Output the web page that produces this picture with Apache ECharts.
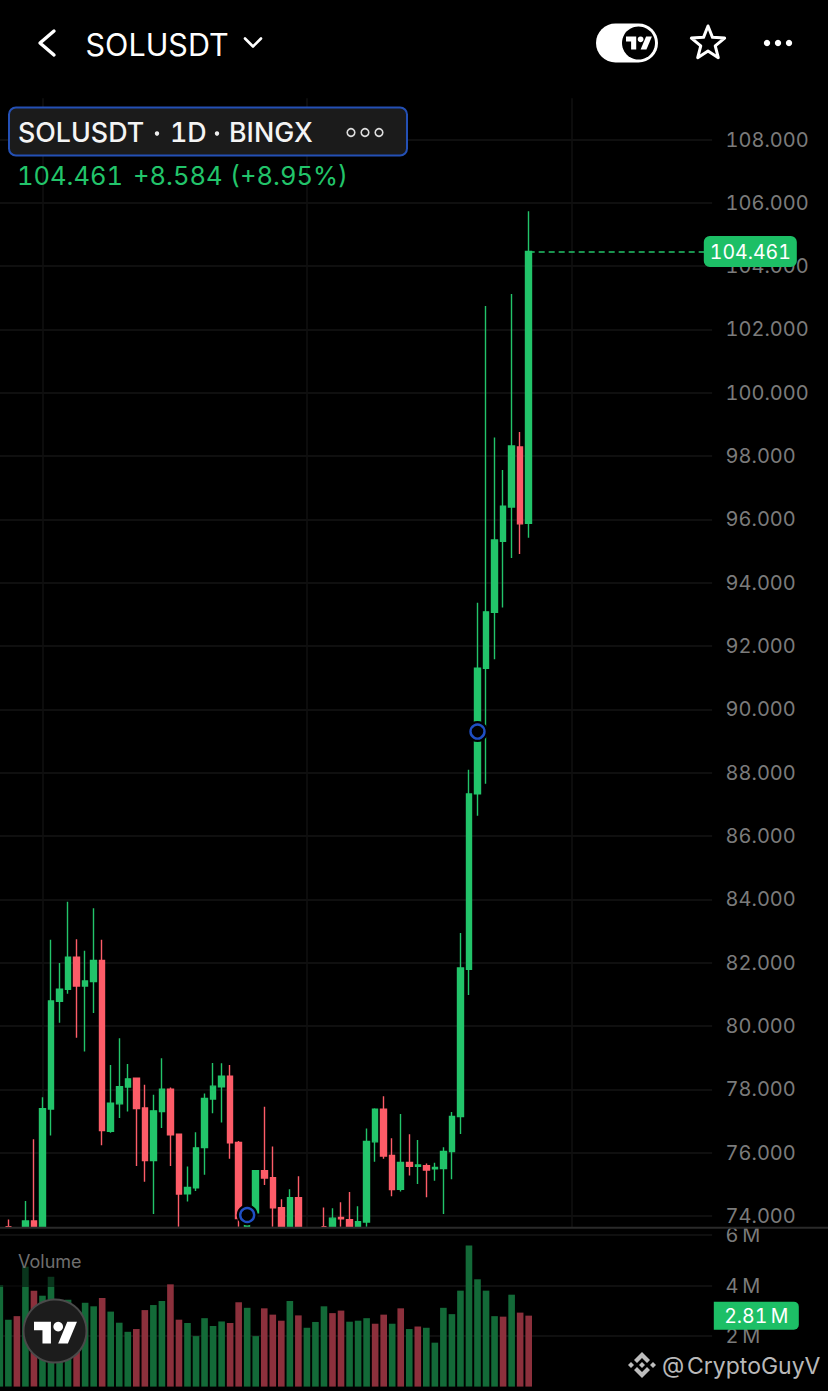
<!DOCTYPE html>
<html><head><meta charset="utf-8">
<style>html,body{margin:0;padding:0;background:#000}#c{width:828px;height:1391px}
svg text{font-feature-settings:"tnum" !important;font-variant-numeric:tabular-nums !important}</style>
<script src="https://cdn.jsdelivr.net/npm/echarts@6/dist/echarts.min.js"></script>
</head><body><div id="c"></div>
<script>
const symbol='SOLUSDT';
const opens =[null,73.66,null,73.66,73.84,73.66,77.38,80.78,81.16,82.17,81.26,81.40,82.07,76.67,77.54,78.07,78.35,77.41,75.75,77.30,78.00,76.58,74.70,74.89,76.16,77.69,78.08,78.41,76.32,73.66,74.10,75.43,75.21,74.26,73.66,74.58,null,null,73.66,73.66,73.95,73.88,73.66,73.81,76.34,77.37,75.91,74.84,75.69,75.57,75.59,75.49,75.50,76.03,77.14,81.79,87.33,91.30,93.07,95.31,96.39,98.29,95.877];
const closes=[null,73.66,null,73.84,73.66,77.39,80.79,81.16,82.17,81.26,81.42,82.07,76.70,77.56,78.08,78.33,77.39,75.75,77.32,78.00,76.56,74.69,74.90,76.15,77.71,78.10,78.41,76.31,73.92,73.85,75.43,75.20,74.26,73.66,74.58,73.66,null,null,73.66,73.93,73.91,73.66,73.82,76.35,77.37,75.89,74.83,75.69,75.57,75.61,75.45,75.53,76.04,77.14,81.83,87.33,91.30,93.08,95.35,96.42,98.32,95.86,104.461];
const lows  =[null,73.66,null,73.66,73.66,73.66,76.54,80.10,81.02,79.63,79.19,80.41,76.23,76.63,77.09,77.30,75.58,75.08,74.06,76.78,75.58,73.66,74.46,74.79,75.30,77.24,76.95,75.81,73.66,73.66,74.10,74.98,73.66,73.66,73.66,73.66,null,null,73.66,73.66,73.66,73.66,73.66,73.66,75.71,75.81,74.62,74.77,75.28,75.01,74.59,75.11,74.06,75.16,76.59,80.98,86.64,87.65,91.58,93.22,94.78,94.91,95.42];
const highs =[null,73.89,null,74.47,76.42,77.75,82.72,81.99,83.92,82.74,82.38,83.72,82.72,78.77,79.61,78.80,78.35,78.14,77.83,78.98,78.06,76.58,75.56,76.64,77.87,78.83,78.82,78.77,76.37,73.95,75.43,77.45,76.19,74.53,74.84,75.25,null,null,74.27,74.24,74.43,74.76,74.31,76.76,77.40,77.78,76.45,77.22,76.58,76.40,75.66,75.68,76.17,77.28,82.94,88.09,93.37,102.74,98.59,97.56,103.12,98.76,105.73];
const volumes=[4.02,2.65,2.79,4.75,3.80,3.60,4.35,3.00,3.44,2.90,3.32,3.18,3.51,2.97,2.53,2.17,2.28,3.03,3.23,3.39,4.05,2.65,2.52,2.00,2.71,2.40,2.58,2.52,3.34,3.12,2.00,3.10,2.85,2.61,3.39,2.82,2.33,2.56,3.18,2.91,3.01,2.57,2.61,2.71,2.49,2.85,2.49,3.10,2.28,2.38,2.33,1.74,3.12,2.87,3.80,5.59,4.25,3.80,2.79,2.77,3.64,2.93,2.81];
const volumeDir='GGRGRGGGGRGGRGGGRRGGRRGGGGGRRGGRRRGRGGGRRGGGRRGRGRGGGGGGGGGRG'.split('');
const markers=[[29,74.03],[56,89.30]];
const monthLines=[5,36,67];
const lastPrice=104.461, lastVolume=2.81;
const priceTicks={min:72,max:110,step:2};
const volumeTicks={min:0,max:6,step:2};
const bandCount=84;
const categories=Array.from({length:bandCount},(_,i)=>String(i));

const GREEN='#22c46a',RED='#fd5c68',VG='#136a38',VR='#8c303c',GRID='#151515',LBL='#7b7b7b',FONT='Inter';
const candles=opens.map((o,i)=>o===null?['-','-','-','-']:[o,closes[i],lows[i],highs[i]]);
const vlinesPrice=monthLines.map(x=>[{xAxis:x,yAxis:73.65},{xAxis:x,yAxis:109.3}]);
const vlinesVol=monthLines.map(x=>[{xAxis:x,yAxis:0},{xAxis:x,yAxis:6.2}]);
const star=[];for(let k=0;k<10;k++){const r=k%2?7.6:17.5,a=-Math.PI/2+k*Math.PI/5;star.push([708+r*Math.cos(a),43.5+r*Math.sin(a)]);}
const G=(o)=>Object.assign({z:100,silent:true},o);
const tvLogo=(x,y,s,fill)=>[
 G({type:'polygon',x,y,scaleX:s,scaleY:s,shape:{points:[[14,22],[7,22],[7,11],[0,11],[0,4],[14,4]]},style:{fill}}),
 G({type:'polygon',x,y,scaleX:s,scaleY:s,shape:{points:[[28,22],[20,22],[27.5,4],[35.5,4]]},style:{fill}}),
 G({type:'circle',x,y,scaleX:s,scaleY:s,shape:{cx:20,cy:8,r:4},style:{fill}})
];
const txt=(x,y,t,size,fill,weight)=>G({type:'text',x,y,style:{text:t,font:`${weight||400} ${size}px ${FONT}`,fill,textVerticalAlign:'middle',verticalAlign:'middle'}});
const poly=(pts,fill)=>G({type:'polygon',x:642,y:1365,shape:{points:pts},style:{fill}});
const graphics=[
 G({type:'polyline',shape:{points:[[54,31],[40,43],[54,55]]},style:{stroke:'#fff',lineWidth:3.4,fill:'none',lineCap:'round',lineJoin:'round'}}),
 txt(85.5,44,symbol,30.5,'#fff',400),
 G({type:'polyline',shape:{points:[[245,38.5],[253,46.5],[261,38.5]]},style:{stroke:'#fff',lineWidth:2.6,fill:'none',lineCap:'round',lineJoin:'round'}}),
 G({type:'rect',shape:{x:596,y:23.5,width:62,height:39,r:19.5},style:{fill:'#fff'}}),
 G({type:'circle',shape:{cx:638.5,cy:43,r:16.5},style:{fill:'#000'}}),
 ...tvLogo(626,33.5,.73,'#fff'),
 G({type:'polygon',shape:{points:star},style:{stroke:'#fff',lineWidth:3,fill:'none',lineJoin:'round'}}),
 G({type:'circle',shape:{cx:767,cy:43,r:3.2},style:{fill:'#fff'}}),
 G({type:'circle',shape:{cx:778,cy:43,r:3.2},style:{fill:'#fff'}}),
 G({type:'circle',shape:{cx:789,cy:43,r:3.2},style:{fill:'#fff'}}),
 G({type:'rect',shape:{x:9,y:107.5,width:398,height:48,r:7},style:{fill:'#1b1b1b',stroke:'#2450b5',lineWidth:2}}),
 txt(18,132,'SOLUSDT',26.8,'#f4f4f4',500),
 G({type:'circle',shape:{cx:157,cy:133.5,r:2.2},style:{fill:'#eee'}}),
 txt(170,132,'1D',26.8,'#f4f4f4',500),
 G({type:'circle',shape:{cx:217,cy:133.5,r:2.2},style:{fill:'#eee'}}),
 txt(229,132,'BINGX',26.8,'#f4f4f4',500),
 G({type:'circle',shape:{cx:351,cy:132.5,r:3.8},style:{fill:'none',stroke:'#ddd',lineWidth:1.6}}),
 G({type:'circle',shape:{cx:365,cy:132.5,r:3.8},style:{fill:'none',stroke:'#ddd',lineWidth:1.6}}),
 G({type:'circle',shape:{cx:379,cy:132.5,r:3.8},style:{fill:'none',stroke:'#ddd',lineWidth:1.6}}),
 txt(17,175.5,'104.461',25.5,GREEN,400),
 txt(133,175.5,'+8.584',25.5,GREEN,400),
 txt(230,175.5,'(+8.95%)',25.5,GREEN,400),
 G({type:'line',shape:{x1:0,y1:1227.7,x2:828,y2:1227.7},style:{stroke:'#2a2a2a',lineWidth:2}}),
 G({type:'rect',shape:{x:0,y:1245,width:90,height:42},style:{fill:'rgba(0,0,0,.5)'}}),
 txt(18,1261,'Volume',18,'#6f6f6f',400),
 G({type:'circle',shape:{cx:55,cy:1331,r:31.5},style:{fill:'#1c1c1c',stroke:'#4a4a4a',lineWidth:2}}),
 ...tvLogo(34,1317,1.21,'#fff'),
 poly([[0,-13],[8,-5],[5,-2],[0,-7],[-5,-2],[-8,-5]],'#bdbdbd'),
 poly([[0,13],[8,5],[5,2],[0,7],[-5,2],[-8,5]],'#bdbdbd'),
 poly([[-14,0],[-11,-3],[-8,0],[-11,3]],'#bdbdbd'),
 poly([[14,0],[11,-3],[8,0],[11,3]],'#bdbdbd'),
 poly([[0,-3],[3,0],[0,3],[-3,0]],'#bdbdbd'),
 txt(662,1365,'@',23,'#b9b9b9',400),
 txt(687,1366,'CryptoGuyV',23,'#b9b9b9',400)
];
const axisLabel=(fmt)=>({show:true,inside:false,margin:13.5,align:'left',color:LBL,fontFamily:FONT,fontSize:20,formatter:fmt,showMinLabel:false,showMaxLabel:false});
const chart=echarts.init(document.getElementById('c'),null,{width:828,height:1391,renderer:'svg'});
chart.setOption({
 animation:false,backgroundColor:'#000',
 grid:[{outerBoundsMode:'none',left:-4.43,width:716.5,top:76.18,height:1203.08},{outerBoundsMode:'none',left:-4.43,width:716.5,top:1235.1,height:151.5}],
 xAxis:[{type:'category',data:categories,gridIndex:0,show:false},{type:'category',data:categories,gridIndex:1,show:false}],
 yAxis:[
  {type:'value',gridIndex:0,position:'right',min:priceTicks.min,max:priceTicks.max,interval:priceTicks.step,axisLine:{show:false},axisTick:{show:false},
   axisLabel:axisLabel(v=>v.toFixed(3)),splitLine:{show:true,showMinLine:false,showMaxLine:false,lineStyle:{color:GRID,width:1.5}}},
  {type:'value',gridIndex:1,position:'right',min:volumeTicks.min,max:volumeTicks.max,interval:volumeTicks.step,axisLine:{show:false},axisTick:{show:false},
   axisLabel:Object.assign(axisLabel(v=>v+'\u2009M'),{showMaxLabel:true}),splitLine:{show:true,showMinLine:false,lineStyle:{color:GRID,width:1.5}}}
 ],
 series:[
  {type:'line',xAxisIndex:0,yAxisIndex:0,data:[],z:0,silent:true,markLine:{silent:true,z:0,symbol:'none',animation:false,label:{show:false},lineStyle:{color:'#111',width:1.5,type:'solid'},data:vlinesPrice}},
  {type:'line',xAxisIndex:1,yAxisIndex:1,data:[],z:0,silent:true,markLine:{silent:true,z:0,symbol:'none',animation:false,label:{show:false},lineStyle:{color:'#111',width:1.5,type:'solid'},data:vlinesVol}},
  {type:'candlestick',xAxisIndex:0,yAxisIndex:0,data:candles,barWidth:6,z:3,silent:true,clip:true,
   itemStyle:{color:GREEN,color0:RED,borderColor:GREEN,borderColor0:RED,borderWidth:1.4},
   markLine:{silent:true,z:20,symbol:'none',animation:false,lineStyle:{color:GREEN,type:[6,4],width:1.6},
    label:{show:true,position:'end',distance:42.5,formatter:()=>lastPrice.toFixed(3),color:'#fff',fontFamily:FONT,fontSize:19.5,backgroundColor:'#1dbf66',borderRadius:6,width:93,height:31,lineHeight:31,align:'center',padding:0},
    data:[[{xAxis:62,yAxis:lastPrice},{xAxis:83,yAxis:lastPrice}]]}},
  {type:'scatter',xAxisIndex:0,yAxisIndex:0,data:markers,symbol:'circle',symbolSize:21,z:4,silent:true,itemStyle:{color:'#000',opacity:1}},
  {type:'scatter',xAxisIndex:0,yAxisIndex:0,data:markers,symbol:'circle',symbolSize:14,z:5,silent:true,itemStyle:{color:'#000',borderColor:'#1f4fc4',borderWidth:2.4,opacity:1}},
  {type:'bar',xAxisIndex:1,yAxisIndex:1,data:volumes,barWidth:6.6,z:3,silent:true,
   itemStyle:{color:p=>volumeDir[p.dataIndex]==='G'?VG:VR},
   markLine:{silent:true,z:20,symbol:'none',animation:false,lineStyle:{color:'rgba(0,0,0,0)',width:0},
    label:{show:true,position:'end',distance:48.5,formatter:()=>lastVolume.toFixed(2)+'\u2009M',color:'#fff',fontFamily:FONT,fontSize:19.5,backgroundColor:'#1dbf66',borderRadius:[0,5,5,0],width:85,height:28,lineHeight:28,align:'center',padding:0},
    data:[[{xAxis:62,yAxis:lastVolume},{xAxis:83,yAxis:lastVolume}]]}}
 ],
 graphic:graphics
});
</script></body></html>
